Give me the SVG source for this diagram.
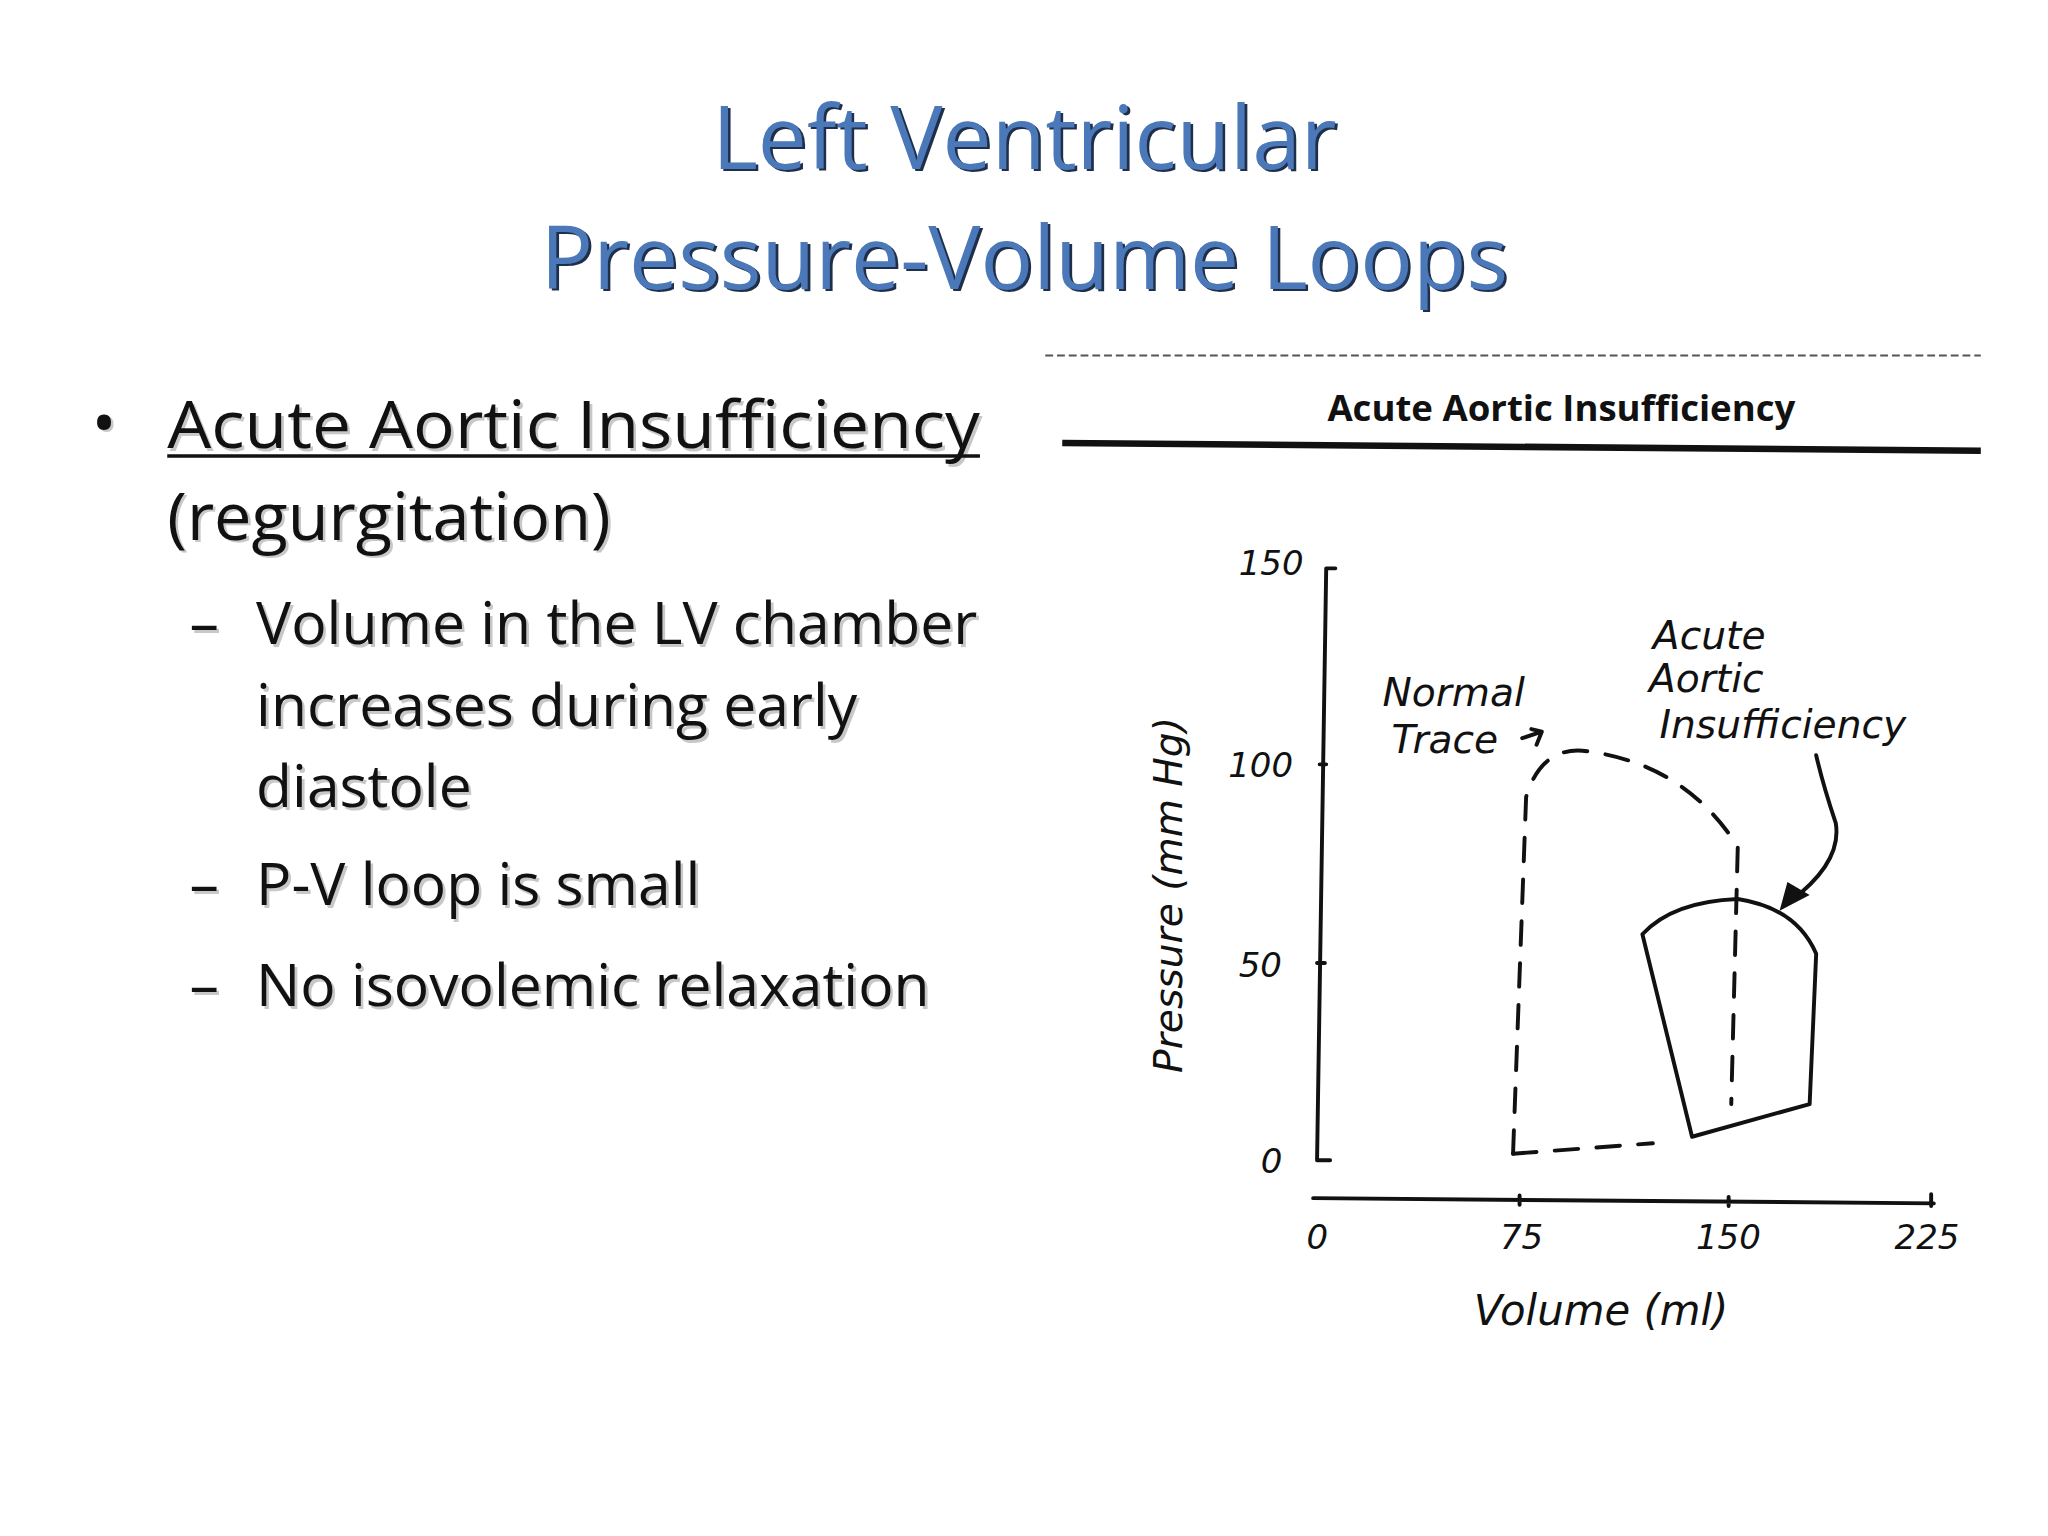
<svg xmlns="http://www.w3.org/2000/svg" width="2048" height="1536" viewBox="0 0 2048 1536">
<style>
.t{font-family:"Open Sans","Liberation Sans",sans-serif;}
.title{font-size:67px;fill:#4a78b8;text-anchor:middle}
.tsh{font-size:67px;fill:#1f2f4a;text-anchor:middle}
.b{font-size:51px;fill:#111}
.s{font-size:45px;fill:#111}
.sh{fill:#c8c8c8}
.hw{font-family:"DejaVu Sans","Liberation Sans",sans-serif;font-style:italic;font-size:26px;fill:#111}
.ln{stroke:#111;stroke-width:3;fill:none;stroke-linecap:round;stroke-linejoin:round}
.dash{stroke-dasharray:18 14}
</style>
<rect width="2048" height="1536" fill="#fff"/>
<g transform="scale(1.3066)">
<g id="title">
<text class="t tsh" x="786" y="131">Left Ventricular</text>
<text class="t title" x="784" y="129">Left Ventricular</text>
<text class="t tsh" x="786" y="223">Pressure-Volume Loops</text>
<text class="t title" x="784" y="221">Pressure-Volume Loops</text>
</g>
<g id="bullets">
<text class="t b sh" x="72" y="343">•</text><text class="t b" x="70" y="341">•</text>
<text class="t b sh" x="130" y="345" textLength="622" lengthAdjust="spacingAndGlyphs">Acute Aortic Insufficiency</text>
<text class="t b" x="128" y="343" textLength="622" lengthAdjust="spacingAndGlyphs">Acute Aortic Insufficiency</text>
<line x1="128" y1="349" x2="750" y2="349" stroke="#111" stroke-width="2.5"/>
<text class="t b sh" x="130" y="415">(regurgitation)</text>
<text class="t b" x="128" y="413">(regurgitation)</text>
<g class="t s">
<text class="sh" x="147" y="495">–</text><text x="145" y="493">–</text>
<text class="sh" x="198" y="495" textLength="552" lengthAdjust="spacingAndGlyphs">Volume in the LV chamber</text><text x="196" y="493" textLength="552" lengthAdjust="spacingAndGlyphs">Volume in the LV chamber</text>
<text class="sh" x="198" y="558">increases during early</text><text x="196" y="556">increases during early</text>
<text class="sh" x="198" y="620">diastole</text><text x="196" y="618">diastole</text>
<text class="sh" x="147" y="695">–</text><text x="145" y="693">–</text>
<text class="sh" x="198" y="695">P-V loop is small</text><text x="196" y="693">P-V loop is small</text>
<text class="sh" x="147" y="772">–</text><text x="145" y="770">–</text>
<text class="sh" x="198" y="772">No isovolemic relaxation</text><text x="196" y="770">No isovolemic relaxation</text>
</g>
</g>
<g id="figure">
<line x1="800" y1="272" x2="1516" y2="272" stroke="#555" stroke-width="1.5" stroke-dasharray="6 3"/>
<text x="1195" y="322" font-family="Open Sans, Liberation Sans, sans-serif" font-weight="bold" font-size="28" text-anchor="middle" fill="#111">Acute Aortic Insufficiency</text>
<path d="M813 339 L1516 345" stroke="#111" stroke-width="5"/>
<path class="ln" d="M1022 435 L1015 435 L1008 888 L1018 888 M1005 917 L1480 921 M1015 585 L1010 585 M1014 737 L1008 737 M1163 915 L1163 922 M1323 916 L1323 923 M1478 914 L1478 923"/>
<g class="hw">
<text x="948" y="440">150</text><text x="940" y="595">100</text><text x="948" y="748">50</text><text x="965" y="898">0</text>
<text x="1000" y="956">0</text><text x="1148" y="956">75</text><text x="1298" y="956">150</text><text x="1450" y="956">225</text>
<text x="1128" y="1014" font-size="32">Volume  (ml)</text>
<text transform="translate(905,685) rotate(-90)" text-anchor="middle" font-size="30">Pressure (mm Hg)</text>
<text x="1058" y="540" font-size="30">Normal</text><text x="1065" y="576" font-size="30">Trace</text>
<text x="1265" y="497" font-size="30">Acute</text><text x="1262" y="530" font-size="30">Aortic</text><text x="1270" y="565" font-size="30">Insufficiency</text>
</g>
<path class="ln dash" d="M1158 883 L1168 610 Q1180 570 1215 575 Q1290 585 1330 648 L1325 845"/>
<path class="ln dash" d="M1158 883 L1265 875"/>
<path class="ln" d="M1165 565 L1180 560 M1172 558 L1180 560 L1176 570"/>
<path class="ln" d="M1257 715 L1295 870 L1385 845 L1390 730 Q1375 695 1330 688 Q1280 690 1257 715 Z"/>
<path class="ln" d="M1390 578 Q1395 600 1405 630 Q1410 660 1370 690"/>
<path d="M1362 697 L1368 675 L1385 685 Z" fill="#111"/>
</g>
</g>
</svg>
